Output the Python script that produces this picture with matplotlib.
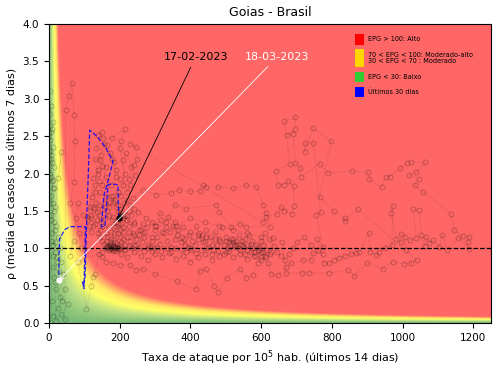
import numpy as np
import matplotlib
matplotlib.use("Agg")
import matplotlib.pyplot as plt
import matplotlib.patches as mpatches
from matplotlib.colors import LinearSegmentedColormap

# trajetoria (taxa de ataque 14 dias, rho 7 dias)
traj = [
    # inicio 2020
    (3, 0.02), (8, 0.3), (5, 2.9), (3, 2.45), (12, 2.69), (8, 2.6), (4, 2.0), (10, 2.35), (6, 2.25),
    (7, 2.20), (14, 2.09), (8, 1.9), (12, 1.91), (15, 1.8), (5, 1.7), (10, 1.6), (26, 1.94), (35, 2.29),
    (18, 1.55), (7, 1.45), (14, 1.35), (20, 1.3), (9, 1.2), (25, 1.15), (12, 1.05), (30, 1.0), (16, 0.95),
    (22, 0.88), (35, 0.82), (10, 0.75), (28, 0.7), (40, 0.65), (18, 0.55), (45, 0.45), (30, 0.35),
    (55, 0.25), (35, 0.12), (20, 0.03),
    (2, 3.1), (4, 2.8), (6, 2.55), (3, 2.3), (9, 2.15), (5, 1.95), (11, 1.8), (4, 1.6), (13, 1.5), (6, 1.38),
    (16, 1.25), (8, 1.1), (18, 1.08), (11, 0.9), (24, 0.82), (14, 0.62), (32, 0.58), (20, 0.45), (38, 0.3),
    (25, 0.2), (10, 0.1), (45, 0.05),
    (47, 2.85), (57, 3.04), (65, 3.21), (71, 2.78), (73, 2.43), (71, 1.89), (60, 1.6), (75, 1.4), (85, 1.2),
    (90, 1.0), (70, 1.1), (60, 0.9), (82, 1.6), (95, 1.45), (110, 1.38),
    # primeira onda
    (125, 1.94), (139, 2.00), (129, 2.20), (143, 2.18), (162, 2.09), (150, 1.85), (175, 1.7), (190, 1.55),
    (215, 1.45), (219, 1.38), (240, 1.32), (252, 1.49), (275, 1.40), (300, 1.30), (313, 1.47), (336, 1.42),
    (355, 1.35), (380, 1.28), (400, 1.22), (420, 1.18), (445, 1.15), (470, 1.12), (500, 1.10), (520, 1.08),
    (540, 1.06), (560, 1.04), (575, 1.00), (590, 0.98), (605, 0.95), (612, 0.90), (600, 0.85), (590, 0.80),
    (577, 0.64), (558, 0.60), (539, 0.73), (503, 0.60), (478, 0.42), (468, 0.49), (445, 0.72), (426, 0.70),
    (417, 0.45), (362, 0.56), (299, 0.66), (266, 0.73), (247, 0.71), (228, 0.78), (200, 0.78), (181, 0.80),
    (162, 0.82), (150, 0.88), (140, 0.92), (129, 0.66), (125, 0.62), (120, 0.49), (106, 0.19), (82, 0.82),
    # segunda onda
    (150, 0.95), (160, 1.0), (168, 1.02), (172, 1.05), (176, 1.0), (180, 1.03), (184, 0.98), (188, 1.02),
    (192, 1.06), (196, 1.0), (200, 1.04), (205, 1.08), (210, 1.12), (215, 1.05), (222, 1.15), (230, 1.1),
    (238, 1.2), (245, 1.12), (255, 1.18), (262, 1.08), (270, 1.22), (280, 1.05), (285, 1.02), (290, 1.1),
    (298, 1.0), (305, 1.15), (315, 1.06), (325, 1.2), (335, 1.1), (345, 1.02), (355, 1.12), (365, 1.25),
    (375, 1.15), (385, 1.05), (395, 1.18), (405, 1.1), (415, 1.3), (425, 1.2), (435, 1.08), (445, 1.25),
    (455, 1.15), (462, 1.05), (470, 1.22), (480, 1.12), (490, 1.28), (500, 1.15), (508, 1.08), (515, 1.12),
    (522, 1.05), (530, 1.1), (538, 1.18), (545, 1.1), (552, 1.02), (560, 0.98), (570, 1.06), (580, 0.95),
    (592, 1.02), (600, 1.1), (610, 1.2), (622, 1.12), (635, 1.03), (645, 0.95), (655, 0.9), (668, 0.85),
    (680, 0.92), (690, 1.0), (700, 1.08), (720, 1.15), (740, 1.05), (760, 0.98), (775, 0.92),
    (748, 0.94), (740, 0.84), (718, 0.84), (685, 0.80), (671, 0.75), (647, 0.64), (629, 0.66), (619, 0.80),
    (600, 0.88), (580, 0.9), (560, 0.86), (540, 0.92), (520, 0.88), (500, 0.95), (480, 0.9), (460, 0.85),
    (440, 0.93), (420, 0.88), (400, 0.82), (380, 0.9), (360, 0.86), (340, 0.94), (320, 0.88), (300, 0.92),
    (280, 0.85), (260, 0.9), (240, 0.95), (220, 0.88), (205, 0.92), (190, 0.96), (178, 0.99), (170, 1.03),
    (165, 1.1), (160, 1.2),
    (165, 1.15), (175, 1.22), (185, 1.28), (195, 1.32), (210, 1.28), (225, 1.22), (240, 1.18), (255, 1.25),
    (265, 1.32), (278, 1.28), (290, 1.35), (302, 1.3), (318, 1.38), (330, 1.28), (342, 1.22), (352, 1.3),
    (362, 1.18), (372, 1.08), (382, 1.12), (392, 1.02), (402, 0.98), (412, 1.05), (422, 1.12), (432, 1.18),
    (442, 1.1), (452, 1.02), (465, 0.98), (475, 1.05), (485, 1.1), (495, 1.05), (505, 1.0), (512, 1.05),
    (520, 1.12), (528, 1.05), (535, 1.0), (545, 1.05), (555, 1.12), (565, 1.18), (575, 1.1), (585, 1.05),
    (595, 0.98), (605, 1.05), (615, 0.98), (625, 0.92), (615, 0.88), (600, 0.95), (585, 0.9), (570, 0.95),
    (555, 0.92), (540, 0.98), (525, 1.02), (510, 0.96), (495, 0.92), (478, 0.96), (460, 0.92), (445, 1.0),
    (430, 0.98), (415, 0.94), (400, 1.0), (388, 0.95), (372, 0.98), (358, 1.0), (345, 0.95), (330, 1.0),
    (318, 0.96), (305, 1.02), (292, 0.97), (280, 1.0), (268, 0.97), (255, 1.0), (245, 1.05), (235, 1.0),
    (225, 1.03), (215, 0.99), (205, 1.01), (198, 0.99), (192, 1.02), (186, 1.0), (180, 0.97), (174, 1.01),
    (168, 0.99), (162, 1.03), (156, 1.06), (150, 1.1), (145, 1.15), (138, 1.2),
    # terceira onda
    (150, 1.3), (140, 1.45), (134, 1.6), (145, 1.75), (160, 1.68), (170, 1.55), (180, 1.62), (195, 1.75),
    (205, 1.7), (214, 2.0), (209, 2.18), (219, 2.27), (233, 2.09), (242, 1.98), (230, 1.85), (220, 1.75),
    (200, 2.34), (205, 2.43), (214, 2.59), (177, 2.47), (153, 2.47), (139, 2.52), (150, 2.56), (134, 2.34),
    (172, 2.27), (185, 2.15), (190, 1.95), (175, 1.85), (160, 1.95), (150, 2.1), (140, 1.9), (130, 1.75),
    (125, 1.55), (118, 1.4), (130, 1.32), (145, 1.25), (170, 1.3), (190, 1.35), (210, 1.4), (225, 1.5),
    (238, 1.67), (266, 1.78), (304, 1.71), (346, 1.74), (369, 1.78), (398, 1.76), (426, 1.76), (435, 1.85),
    (445, 1.82), (478, 1.82), (520, 1.80), (558, 1.85), (586, 1.82), (605, 1.58), (614, 1.47), (624, 1.29),
    (558, 1.29), (539, 1.33), (516, 1.29), (482, 1.49), (473, 1.58), (388, 1.53), (355, 1.58), (330, 1.35),
    (300, 1.25), (270, 1.15), (240, 1.05), (215, 0.98), (195, 1.0), (180, 1.05), (175, 1.12), (185, 1.2),
    (200, 1.25), (190, 1.3), (178, 1.38),
    (120, 1.45), (128, 1.52), (135, 1.48), (142, 1.58), (150, 1.52), (158, 1.6), (165, 1.5), (172, 1.62),
    (180, 1.7), (188, 1.65), (196, 1.58), (205, 1.52), (212, 1.6), (222, 1.65), (230, 1.58), (240, 1.52),
    (232, 1.45), (220, 1.38), (208, 1.45), (195, 1.48), (182, 1.42), (170, 1.45), (158, 1.4), (146, 1.35),
    (135, 1.38), (125, 1.3), (118, 1.22), (112, 1.3), (108, 1.42), (115, 1.55), (122, 1.68), (130, 1.85),
    (138, 2.05), (146, 2.25), (155, 2.4), (165, 2.38), (178, 2.2), (190, 2.05), (200, 1.92), (210, 1.85),
    (225, 1.92), (240, 2.12), (250, 2.2), (245, 2.35), (230, 2.4),
    # omicron
    (605, 1.35), (614, 1.42), (645, 1.46), (655, 1.55), (666, 1.50), (688, 1.46), (694, 1.57), (692, 1.83),
    (676, 1.90), (664, 1.85), (648, 1.84), (641, 2.03), (681, 2.13), (666, 2.70), (697, 2.75), (697, 2.59),
    (674, 2.52), (690, 2.53), (697, 2.14), (711, 2.08), (713, 1.96), (765, 2.13), (790, 2.01), (857, 2.03),
    (901, 2.02), (906, 1.92), (941, 1.82), (953, 1.95), (964, 1.96), (994, 2.07), (1013, 2.14), (1024, 2.16),
    (1064, 2.15), (1039, 2.02), (1019, 1.98), (1045, 1.93), (1034, 1.84), (1059, 1.75), (1138, 1.46),
    (1146, 1.24), (1171, 1.16), (1189, 1.15), (1184, 1.09), (1189, 0.99), (1158, 1.14), (1125, 0.98),
    (1112, 1.18), (1104, 1.02), (1085, 1.11), (1076, 1.07), (1066, 1.15), (1062, 1.03), (1053, 1.18),
    (1047, 1.51), (1030, 1.52), (1038, 1.14), (1021, 1.11), (1010, 0.98), (1007, 1.15), (995, 1.19),
    (995, 1.08), (982, 1.12), (968, 1.47), (972, 1.57), (970, 1.04), (951, 1.00), (932, 0.95), (925, 0.91),
    (908, 0.95), (904, 1.21), (878, 0.95), (869, 0.94), (855, 0.92), (836, 0.90), (819, 0.87), (805, 0.84),
    (792, 0.80), (777, 0.81), (758, 1.12), (774, 1.02), (756, 1.45), (768, 1.48), (748, 2.41), (724, 2.41),
    (723, 2.29), (748, 2.61), (798, 2.43), (765, 1.68), (805, 1.50), (836, 1.40), (836, 1.37), (873, 1.53),
    (1040, 0.84), (1024, 0.81), (1005, 0.79), (972, 0.82), (944, 0.73), (900, 0.80), (862, 0.63),
    (845, 0.71), (793, 0.67), (735, 0.67), (716, 0.67), (671, 0.67), (660, 1.08), (633, 1.14), (629, 0.95),
    # 2022-2023
    (600, 1.15), (560, 1.2), (520, 1.25), (480, 1.3), (440, 1.35), (400, 1.4), (360, 1.3), (320, 1.22),
    (290, 1.15), (260, 1.25), (240, 1.35), (225, 1.3), (210, 1.22), (200, 1.15), (188, 1.08), (182, 1.02),
    (176, 1.05), (170, 0.98), (165, 1.02), (172, 1.08), (185, 1.12), (195, 1.2), (205, 1.32), (200, 1.41),
    (197, 1.41),
]
ataque = [p[0] for p in traj]
rho = [p[1] for p in traj]

# ultimos 30 dias (17-02-2023 ate 18-03-2023)
ult_ataque = [197, 196, 195, 180, 167, 163, 158, 148, 155, 170, 181, 160, 135, 115, 112, 108, 105,
              102, 98, 95, 99, 100, 102, 103, 80, 59, 45, 30, 28, 28]
ult_rho = [1.41, 1.60, 1.85, 1.86, 1.85, 1.60, 1.29, 1.29, 1.70, 1.95, 2.16, 2.35, 2.50, 2.58, 2.10,
           1.60, 1.10, 0.60, 0.52, 0.55, 0.46, 0.70, 1.00, 1.29, 1.29, 1.29, 1.25, 1.13, 0.90, 0.57]

data_ini = "17-02-2023"
data_fim = "18-03-2023"

leg_labels = ["EPG > 100: Alto", "70 < EPG < 100: Moderado-alto\n30 < EPG < 70 : Moderado",
              "EPG < 30: Baixo", "Últimos 30 dias"]
leg_cores = ["red", "gold", "limegreen", "blue"]

fig = plt.figure(figsize=(5, 3.68), dpi=100)
ax = fig.add_axes([0.098, 0.122, 0.884, 0.813])

# mapa de risco EPG = ataque * rho
xg = np.linspace(0, 1250, 600)
yg = np.linspace(0, 4, 400)
X, Y = np.meshgrid(xg, yg)
epg = np.clip(X * Y, 0, 100)
cmap = LinearSegmentedColormap.from_list(
    "risco", [(0.0, "#1e8c1e"), (0.3, "#9acd32"), (0.5, "#ffff00"), (0.7, "#ffd700"), (1.0, "#ff0000")])
ax.imshow(epg, extent=[0, 1250, 0, 4], origin="lower", aspect="auto", cmap=cmap, alpha=0.6,
          vmin=0, vmax=100, interpolation="bilinear")

ax.plot(ataque, rho, "ko:", ms=3.5, mfc="none", mew=0.7, lw=0.6, alpha=0.22)
ax.plot(ult_ataque, ult_rho, "--", color="blue", lw=0.9, alpha=0.85)
ax.plot(ult_ataque[0], ult_rho[0], "ko", ms=3.5)
ax.plot(ult_ataque[-1], ult_rho[-1], "wo", ms=3.5)
ax.axhline(1, color="k", ls="--", lw=0.9)

ax.annotate(data_ini, xy=(ult_ataque[0], ult_rho[0]), xytext=(415, 3.52), ha="center", fontsize=8,
            color="black", arrowprops=dict(arrowstyle="->", color="black", lw=0.6, shrinkA=2, shrinkB=0))
ax.annotate(data_fim, xy=(ult_ataque[-1], ult_rho[-1]), xytext=(646, 3.52), ha="center", fontsize=8,
            color="white", arrowprops=dict(arrowstyle="->", color="white", lw=0.6, shrinkA=2, shrinkB=0))

ax.set_xlim(0, 1250)
ax.set_ylim(0, 4)
ax.tick_params(labelsize=7.5)
ax.set_title("Goias - Brasil", fontsize=9)
ax.set_xlabel("Taxa de ataque por $10^5$ hab. (últimos 14 dias)", fontsize=8)
ax.set_ylabel("ρ (média de casos dos últimos 7 dias)", fontsize=8)

# legenda (caixas coloridas + texto, em coordenadas do eixo)
caixas = [(0.930, 0.0368), (0.855, 0.0612), (0.805, 0.0354), (0.755, 0.0354)]
for (y0, h), cor, lab in zip(caixas, leg_cores, leg_labels):
    ax.add_patch(mpatches.Rectangle((0.6934, y0), 0.0188, h, transform=ax.transAxes,
                                    facecolor=cor, edgecolor="none", zorder=5))
    ax.text(0.7206, y0 + h / 2, lab, transform=ax.transAxes, fontsize=4.7, va="center",
            ha="left", linespacing=0.95, zorder=5)

fig.savefig("out.png", dpi=100)
